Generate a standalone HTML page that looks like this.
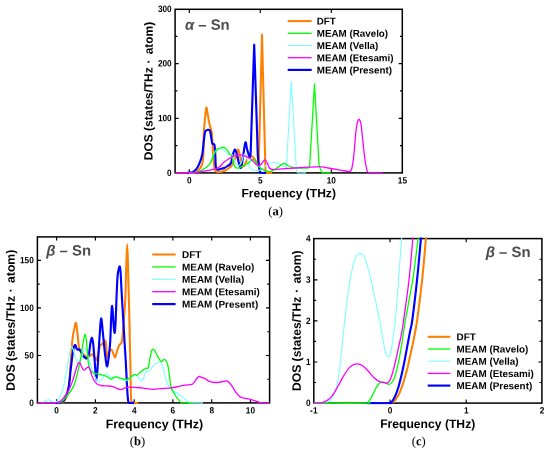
<!DOCTYPE html>
<html lang="en"><head><meta charset="utf-8"><title>Phonon DOS of Sn</title>
<style>html,body{margin:0;padding:0;background:#fff}svg{display:block}</style>
</head><body>
<svg width="550" height="453" viewBox="0 0 550 453">
<rect width="550" height="453" fill="#fff"/>
<defs>
<clipPath id="clipa"><rect x="174.1" y="8.1" width="229.2" height="166.2"/></clipPath>
<clipPath id="clipb"><rect x="36.4" y="235.7" width="234.2" height="168.6"/></clipPath>
<clipPath id="clipc"><rect x="312.8" y="237.4" width="230.1" height="167.1"/></clipPath>
</defs>
<g id="plot-a">
<g fill="none" stroke="#000" stroke-width="1.5">
<rect x="175.1" y="9.3" width="227.2" height="163.6"/>
<path d="M189.3 172.9v-3.6M189.3 9.3v3.6M260.3 172.9v-3.6M260.3 9.3v3.6M331.3 172.9v-3.6M331.3 9.3v3.6M175.1 118.3h3.6M402.3 118.3h-3.6M175.1 63.6h3.6M402.3 63.6h-3.6M175.1 145.6h2.3M402.3 145.6h-2.3M175.1 90.9h2.3M402.3 90.9h-2.3M175.1 36.3h2.3M402.3 36.3h-2.3" stroke-width="1.15"/>
</g>
<g fill="none" stroke-linejoin="round" stroke-linecap="butt" clip-path="url(#clipa)">
<path d="M189 172.9C189.67 172.88 191.68 173.05 193 172.8C194.32 172.55 195.82 172.03 196.9 171.4C197.98 170.77 198.73 169.9 199.5 169C200.27 168.1 200.93 167.35 201.5 166C202.07 164.65 202.58 162.78 202.9 160.9C203.22 159.02 203.28 157.85 203.4 154.7C203.52 151.55 203.52 145.85 203.6 142C203.68 138.15 203.68 135.37 203.9 131.6C204.12 127.83 204.48 123.42 204.9 119.4C205.32 115.38 205.88 108.07 206.4 107.5C206.92 106.93 207.48 113.2 208 116C208.52 118.8 208.9 121.7 209.5 124.3C210.1 126.9 211.13 128.98 211.6 131.6C212.07 134.22 212.05 136.15 212.3 140C212.55 143.85 212.73 150.03 213.1 154.7C213.47 159.37 214.02 165.22 214.5 168C214.98 170.78 215.42 170.73 216 171.4C216.58 172.07 217 171.98 218 172C219 172.02 220.67 171.83 222 171.5C223.33 171.17 224.83 170.58 226 170C227.17 169.42 228.03 168.75 229 168C229.97 167.25 230.8 167 231.8 165.5C232.8 164 234.13 161.25 235 159C235.87 156.75 236.45 153.55 237 152C237.55 150.45 237.75 148.73 238.3 149.7C238.85 150.67 239.68 155.17 240.3 157.8C240.92 160.43 241.38 164.13 242 165.5C242.62 166.87 243.33 166.58 244 166C244.67 165.42 245.33 163.37 246 162C246.67 160.63 247.25 158.8 248 157.8C248.75 156.8 249.83 156.27 250.5 156C251.17 155.73 251.33 155.7 252 156.2C252.67 156.7 253.67 157.95 254.5 159C255.33 160.05 256.35 161.58 257 162.5C257.65 163.42 258.08 165.53 258.4 164.5C258.72 163.47 258.75 160.94 258.92 156.3C259.09 151.67 259.25 143.24 259.42 136.71C259.58 130.18 259.75 123.65 259.91 117.12C260.08 110.59 260.24 104.06 260.41 97.53C260.57 91 260.74 84.46 260.9 77.93C261.07 71.4 261.23 64.87 261.4 58.34C261.56 51.81 261.79 42.71 261.89 38.75C262 34.79 261.96 34.6 262 34.6C262.04 34.6 262 34.56 262.11 38.75C262.21 42.94 262.46 52.73 262.64 59.72C262.81 66.72 262.99 73.71 263.17 80.7C263.34 87.69 263.52 94.68 263.7 101.68C263.87 108.67 264.05 115.66 264.23 122.65C264.41 129.64 264.58 136.63 264.76 143.63C264.94 150.62 265.13 159.96 265.29 164.6C265.45 169.25 265.48 170.12 265.7 171.5C265.92 172.88 265.55 172.67 266.6 172.9C267.65 173.13 271.1 172.9 272 172.9" stroke="#ff7f00" stroke-width="2.05"/>
<path d="M187 172.9C187.67 172.85 189.98 172.78 191 172.6C192.02 172.42 192.3 172.3 193.1 171.8C193.9 171.3 194.98 170.5 195.8 169.6C196.62 168.7 197.23 167.85 198 166.4C198.77 164.95 199.7 162.85 200.4 160.9C201.1 158.95 201.72 157.18 202.2 154.7C202.68 152.22 202.95 149.03 203.3 146C203.65 142.97 203.98 138.9 204.3 136.5C204.62 134.1 204.83 132.63 205.2 131.6C205.57 130.57 206 130.6 206.5 130.3C207 130 207.6 129.68 208.2 129.8C208.8 129.92 209.53 129.28 210.1 131C210.67 132.72 211.2 137.97 211.6 140.1C212 142.23 212.05 143.08 212.5 143.8C212.95 144.52 213.9 143.6 214.3 144.4C214.7 145.2 214.73 146.88 214.9 148.6C215.07 150.32 215.15 151.75 215.3 154.7C215.45 157.65 215.47 163.8 215.8 166.3C216.13 168.8 216.6 169.25 217.3 169.7C218 170.15 218.87 169.28 220 169C221.13 168.72 222.85 168.5 224.1 168C225.35 167.5 226.37 166.83 227.5 166C228.63 165.17 229.9 165.22 230.9 163C231.9 160.78 232.78 154.92 233.5 152.7C234.22 150.48 234.63 149.42 235.2 149.7C235.77 149.98 236.18 151.77 236.9 154.4C237.62 157.03 238.78 163.37 239.5 165.5C240.22 167.63 240.63 168.48 241.2 167.2C241.77 165.92 242.2 161.92 242.9 157.8C243.6 153.68 244.7 143.92 245.4 142.5C246.1 141.08 246.38 146.88 247.1 149.3C247.82 151.72 249.1 156.55 249.7 157C250.3 157.45 250.52 153.46 250.7 152C250.88 150.54 250.69 151.65 250.8 148.24C250.91 144.83 251.16 137.12 251.34 131.57C251.53 126.01 251.71 120.45 251.89 114.9C252.07 109.34 252.26 103.78 252.44 98.22C252.62 92.67 252.8 87.11 252.98 81.55C253.17 75.99 253.35 70.44 253.53 64.88C253.71 59.32 253.97 51.6 254.08 48.2C254.19 44.81 254.16 44.5 254.2 44.5C254.24 44.5 254.2 44.6 254.32 48.2C254.44 51.81 254.71 60.14 254.91 66.11C255.1 72.08 255.3 78.05 255.5 84.02C255.69 89.99 255.89 95.96 256.08 101.93C256.28 107.9 256.47 113.87 256.67 119.84C256.87 125.8 257.06 131.77 257.26 137.74C257.45 143.71 257.55 150.94 257.84 155.65C258.14 160.36 258.71 163.39 259 166C259.29 168.61 259.27 170.15 259.6 171.3C259.93 172.45 259.93 172.63 261 172.9C262.07 173.17 265.17 172.9 266 172.9" stroke="#0000ff" stroke-width="2.15"/>
<path d="M189 172.9C190 172.83 193.17 172.82 195 172.5C196.83 172.18 198.27 171.75 200 171C201.73 170.25 203.73 169.25 205.4 168C207.07 166.75 208.73 165.67 210 163.5C211.27 161.33 211.95 157.25 213 155C214.05 152.75 215.13 151 216.3 150C217.47 149 218.72 149 220 149C221.28 149 222.6 149.1 224 150C225.4 150.9 227.1 153.67 228.4 154.4C229.7 155.13 230.95 153.83 231.8 154.4C232.65 154.97 232.8 156.23 233.5 157.8C234.2 159.37 235.15 162.52 236 163.8C236.85 165.08 237.73 165.65 238.6 165.5C239.47 165.35 240.35 164.6 241.2 162.9C242.05 161.2 243 156.78 243.7 155.3C244.4 153.82 244.83 153.58 245.4 154C245.97 154.42 246.38 155.6 247.1 157.8C247.82 160 248.85 165.22 249.7 167.2C250.55 169.18 251.07 169.15 252.2 169.7C253.33 170.25 254.95 170.5 256.5 170.5C258.05 170.5 259.95 170.53 261.5 169.7C263.05 168.87 264.52 166.48 265.8 165.5C267.08 164.52 268.17 164.3 269.2 163.8C270.23 163.3 270.98 162.72 272 162.5C273.02 162.28 273.97 162.18 275.3 162.5C276.63 162.82 278.42 163.68 280 164.4C281.58 165.12 283.77 166.28 284.8 166.8C285.83 167.32 285.93 167.7 286.2 167.5C286.47 167.3 286.26 168.17 286.42 165.6C286.59 163.02 286.95 156.57 287.21 152.05C287.47 147.54 287.73 143.02 288 138.51C288.26 134 288.52 129.48 288.78 124.97C289.04 120.45 289.31 115.94 289.57 111.42C289.83 106.91 290.09 102.4 290.35 97.88C290.62 93.37 290.98 87.05 291.14 84.34C291.3 81.63 291.25 81.6 291.3 81.6C291.35 81.6 291.3 81.57 291.46 84.34C291.62 87.1 291.99 93.57 292.26 98.19C292.53 102.8 292.8 107.42 293.07 112.03C293.33 116.65 293.6 121.26 293.87 125.88C294.14 130.5 294.41 135.11 294.67 139.73C294.94 144.34 295.21 148.96 295.48 153.57C295.75 158.19 296.03 164.43 296.28 167.42C296.54 170.41 296.68 170.59 297 171.5C297.32 172.41 296.7 172.67 298.2 172.9C299.7 173.13 304.7 172.9 306 172.9" stroke="#7fffff" stroke-width="1.15"/>
<path d="M189 172.9C190 172.83 193.17 172.82 195 172.5C196.83 172.18 198.27 171.75 200 171C201.73 170.25 203.65 169.33 205.4 168C207.15 166.67 209.08 165.27 210.5 163C211.92 160.73 212.77 156.68 213.9 154.4C215.03 152.12 216.2 150.37 217.3 149.3C218.4 148.23 219.37 148.33 220.5 148C221.63 147.67 223.07 147.08 224.1 147.3C225.13 147.52 225.83 148.25 226.7 149.3C227.57 150.35 228.45 152.47 229.3 153.6C230.15 154.73 231.1 154.55 231.8 156.1C232.5 157.65 232.93 161.05 233.5 162.9C234.07 164.75 234.35 166.35 235.2 167.2C236.05 168.05 237.47 168.15 238.6 168C239.73 167.85 240.58 167 242 166.3C243.42 165.6 245.68 164.65 247.1 163.8C248.52 162.95 249.37 161.92 250.5 161.2C251.63 160.48 253.05 159.37 253.9 159.5C254.75 159.63 254.88 160.87 255.6 162C256.32 163.13 257.07 165.08 258.2 166.3C259.33 167.52 261.1 168.53 262.4 169.3C263.7 170.07 264.65 170.52 266 170.9C267.35 171.28 269 171.9 270.5 171.6C272 171.3 273.75 169.82 275 169.1C276.25 168.38 276.97 168.02 278 167.3C279.03 166.58 280.18 165.45 281.2 164.8C282.22 164.15 283.12 163.35 284.1 163.4C285.08 163.45 285.8 164.47 287.1 165.1C288.4 165.73 290.12 166.72 291.9 167.2C293.68 167.68 295.95 167.83 297.8 168C299.65 168.17 301.43 168.2 303 168.2C304.57 168.2 306.17 168.15 307.2 168C308.23 167.85 308.77 167.97 309.2 167.3C309.63 166.64 309.55 166.71 309.77 164.01C310 161.31 310.28 155.42 310.54 151.12C310.79 146.82 311.04 142.53 311.3 138.23C311.55 133.93 311.8 129.64 312.06 125.34C312.31 121.04 312.57 116.74 312.82 112.45C313.07 108.15 313.33 103.85 313.58 99.56C313.84 95.26 314.19 89.26 314.34 86.67C314.5 84.07 314.45 84 314.5 84C314.55 84 314.5 84.07 314.65 86.67C314.8 89.26 315.13 95.26 315.38 99.56C315.62 103.85 315.86 108.15 316.1 112.45C316.34 116.74 316.58 121.04 316.82 125.34C317.07 129.64 317.31 133.93 317.55 138.23C317.79 142.53 318.03 146.82 318.27 151.12C318.52 155.42 318.66 161.11 319 164.01C319.34 166.91 319.85 167.13 320.3 168.5C320.75 169.87 321.25 171.47 321.7 172.2C322.15 172.93 321.45 172.78 323 172.9C324.55 173.02 329.67 172.9 331 172.9" stroke="#00ff00" stroke-width="1.3"/>
<path d="M175.1 172.9C178.42 172.83 190.52 172.73 195 172.5C199.48 172.27 199.13 171.97 202 171.5C204.87 171.03 209.37 170.42 212.2 169.7C215.03 168.98 217.02 168.48 219 167.2C220.98 165.92 222.4 163.42 224.1 162C225.8 160.58 227.63 159.68 229.2 158.7C230.77 157.72 231.65 156.75 233.5 156.1C235.35 155.45 238.32 154.8 240.3 154.8C242.28 154.8 243.7 155.45 245.4 156.1C247.1 156.75 249.08 157.7 250.5 158.7C251.92 159.7 252.77 160.97 253.9 162.1C255.03 163.23 256.17 165.08 257.3 165.5C258.43 165.92 259.7 165.32 260.7 164.6C261.7 163.88 262.53 161.97 263.3 161.2C264.07 160.43 264.63 159.7 265.3 160C265.97 160.3 266.62 161.67 267.3 163C267.98 164.33 268.45 166.9 269.4 168C270.35 169.1 271.42 169.42 273 169.6C274.58 169.78 276.57 169.28 278.9 169.1C281.23 168.92 284.25 168.68 287 168.5C289.75 168.32 292.03 168.22 295.4 168C298.77 167.78 303.67 167.4 307.2 167.2C310.73 167 314.17 166.87 316.6 166.8C319.03 166.73 319.83 166.6 321.8 166.8C323.77 167 326.05 167.57 328.4 168C330.75 168.43 333 168.9 335.9 169.4C338.8 169.9 343.48 170.67 345.8 171C348.12 171.33 348.8 171.82 349.8 171.4C350.8 170.98 351.13 171.15 351.8 168.5C352.47 165.85 353.15 161.3 353.8 155.5C354.45 149.7 355.12 139.15 355.7 133.7C356.28 128.25 356.73 125.18 357.3 122.8C357.87 120.42 358.47 119.07 359.1 119.4C359.73 119.73 360.5 121.42 361.1 124.8C361.7 128.18 362.1 134.25 362.7 139.7C363.3 145.15 364.03 152.55 364.7 157.5C365.37 162.45 366.1 166.92 366.7 169.4C367.3 171.88 367.58 171.82 368.3 172.4C369.02 172.98 368.62 172.82 371 172.9C373.38 172.98 380.67 172.9 382.6 172.9" stroke="#ff00ff" stroke-width="1.3"/>
</g>
<g style="font-family:'Liberation Sans',Arial,sans-serif;font-weight:bold;font-size:9.2px" fill="#000">
<text transform="translate(189.3 183.6) rotate(.04) scale(.9 1)" text-anchor="middle">0</text>
<text transform="translate(260.3 183.6) rotate(.04) scale(.9 1)" text-anchor="middle">5</text>
<text transform="translate(331.3 183.6) rotate(.04) scale(.9 1)" text-anchor="middle">10</text>
<text transform="translate(402.4 183.6) rotate(.04) scale(.9 1)" text-anchor="middle">15</text>
<text transform="translate(171.7 175.9) rotate(.04) scale(.9 1)" text-anchor="end">0</text>
<text transform="translate(171.7 121.3) rotate(.04) scale(.9 1)" text-anchor="end">100</text>
<text transform="translate(171.7 66.6) rotate(.04) scale(.9 1)" text-anchor="end">200</text>
<text transform="translate(171.7 12.1) rotate(.04) scale(.9 1)" text-anchor="end">300</text>
</g>
<text transform="translate(288.7 197.3) rotate(.04)" text-anchor="middle" style="font-family:'Liberation Sans',Arial,sans-serif;font-weight:bold;font-size:12.05px" fill="#000">Frequency (THz)</text>
<text transform="translate(152.6 91) rotate(-89.96)" text-anchor="middle" style="font-family:'Liberation Sans',Arial,sans-serif;font-weight:bold;font-size:11.95px" fill="#000"><tspan>DOS (states/THz</tspan><tspan dx="3.8">·</tspan><tspan dx="5.2">atom)</tspan></text>
<text transform="translate(184.9 29.8) rotate(.04)" style="font-family:'Liberation Sans',Arial,sans-serif;font-weight:bold;font-size:14.9px" fill="#4d4d4d"><tspan font-style="italic">α</tspan> – Sn</text>
<g style="font-family:'Liberation Sans',Arial,sans-serif;font-weight:bold;font-size:9.8px" fill="#000">
<path d="M287.7 21.1H311.7" stroke="#ff7f00" stroke-width="2.05" fill="none"/>
<text transform="translate(316.8 24.6) rotate(.04)">DFT</text>
<path d="M287.7 33.3H311.7" stroke="#00ff00" stroke-width="1.3" fill="none"/>
<text transform="translate(316.8 36.8) rotate(.04)">MEAM (Ravelo)</text>
<path d="M287.7 45.5H311.7" stroke="#7fffff" stroke-width="1.15" fill="none"/>
<text transform="translate(316.8 49) rotate(.04)">MEAM (Vella)</text>
<path d="M287.7 57.7H311.7" stroke="#ff00ff" stroke-width="1.3" fill="none"/>
<text transform="translate(316.8 61.2) rotate(.04)">MEAM (Etesami)</text>
<path d="M287.7 69.9H311.7" stroke="#0000ff" stroke-width="2.15" fill="none"/>
<text transform="translate(316.8 73.4) rotate(.04)">MEAM (Present)</text>
</g>
<text transform="translate(275.6 215.3) rotate(.04)" text-anchor="middle" style="font-family:'Liberation Serif','Times New Roman',serif;font-size:12.6px" fill="#000">(<tspan font-weight="bold">a</tspan>)</text>
</g>
<g id="plot-b">
<g fill="none" stroke="#000" stroke-width="1.5">
<rect x="37.4" y="236.9" width="232.2" height="166"/>
<path d="M56.6 402.9v-3.6M56.6 236.9v3.6M95.4 402.9v-3.6M95.4 236.9v3.6M134.2 402.9v-3.6M134.2 236.9v3.6M172.9 402.9v-3.6M172.9 236.9v3.6M211.7 402.9v-3.6M211.7 236.9v3.6M250.4 402.9v-3.6M250.4 236.9v3.6M37.4 355.5h3.6M269.6 355.5h-3.6M37.4 307.9h3.6M269.6 307.9h-3.6M37.4 260.3h3.6M269.6 260.3h-3.6M37.4 379.2h2.3M269.6 379.2h-2.3M37.4 331.7h2.3M269.6 331.7h-2.3M37.4 284.1h2.3M269.6 284.1h-2.3" stroke-width="1.15"/>
</g>
<g fill="none" stroke-linejoin="round" stroke-linecap="butt" clip-path="url(#clipb)">
<path d="M56 402.9C56.83 402.85 59.67 402.92 61 402.6C62.33 402.28 63.08 401.93 64 401C64.92 400.07 65.75 399.17 66.5 397C67.25 394.83 67.92 392.17 68.5 388C69.08 383.83 69.58 376.9 70 372C70.42 367.1 70.68 363.05 71 358.6C71.32 354.15 71.57 349.17 71.9 345.3C72.23 341.43 72.57 338.28 73 335.4C73.43 332.52 74 330.07 74.5 328C75 325.93 75.47 321.77 76 323C76.53 324.23 77.23 331.5 77.7 335.4C78.17 339.3 78.33 343.8 78.8 346.4C79.27 349 79.68 349.7 80.5 351C81.32 352.3 82.7 353.22 83.7 354.2C84.7 355.18 85.48 356.63 86.5 356.9C87.52 357.17 88.88 356.25 89.8 355.8C90.72 355.35 91.3 354.17 92 354.2C92.7 354.23 93.25 355.03 94 356C94.75 356.97 95.75 360.67 96.5 360C97.25 359.33 97.92 354.33 98.5 352C99.08 349.67 99.45 347.27 100 346C100.55 344.73 101.22 344.9 101.8 344.4C102.38 343.9 102.93 343.65 103.5 343C104.07 342.35 104.75 340 105.2 340.5C105.65 341 105.92 343.17 106.2 346C106.48 348.83 106.43 356.5 106.9 357.5C107.37 358.5 108.15 353.22 109 352C109.85 350.78 111.02 349.28 112 350.2C112.98 351.12 114.05 357.38 114.9 357.5C115.75 357.62 116.37 352.97 117.1 350.9C117.83 348.83 118.57 346.43 119.3 345.1C120.03 343.77 121 343.98 121.5 342.9C122 341.82 122.02 341.02 122.3 338.6C122.58 336.18 122.88 332.23 123.2 328.4C123.52 324.57 123.83 320.93 124.2 315.6C124.57 310.27 125.03 305.33 125.4 296.4C125.77 287.47 126.1 270.68 126.4 262C126.7 253.32 126.95 244.3 127.2 244.3C127.45 244.3 127.67 254.38 127.9 262C128.13 269.62 128.37 281.07 128.6 290C128.83 298.93 129.07 305.93 129.3 315.6C129.53 325.27 129.8 339.1 130 348C130.2 356.9 130.33 360.62 130.5 369C130.67 377.38 130.78 392.7 131 398.3C131.22 403.9 131.47 401.83 131.8 402.6C132.13 403.37 131.93 402.85 133 402.9C134.07 402.95 137.33 402.9 138.2 402.9" stroke="#ff7f00" stroke-width="2.05"/>
<path d="M56 402.9C56.67 402.85 58.92 402.83 60 402.6C61.08 402.37 61.63 402.22 62.5 401.5C63.37 400.78 64.15 400.78 65.2 398.3C66.25 395.82 67.9 391.28 68.8 386.6C69.7 381.92 70.02 375.27 70.6 370.2C71.18 365.13 71.82 359.82 72.3 356.2C72.78 352.58 73.12 350.32 73.5 348.5C73.88 346.68 74.25 345.78 74.6 345.3C74.95 344.82 75.28 345.05 75.6 345.6C75.92 346.15 76.15 347.92 76.5 348.6C76.85 349.28 77.23 349.55 77.7 349.7C78.17 349.85 78.75 349.13 79.3 349.5C79.85 349.87 80.45 350.93 81 351.9C81.55 352.87 81.97 354.37 82.6 355.3C83.23 356.23 84.07 357 84.8 357.5C85.53 358 86.32 358.85 87 358.3C87.68 357.75 88.33 356.73 88.9 354.2C89.47 351.67 89.92 345.87 90.4 343.1C90.88 340.33 91.35 337.6 91.8 337.6C92.25 337.6 92.63 339.37 93.1 343.1C93.57 346.83 94.05 353.78 94.6 360C95.15 366.22 95.82 380.4 96.4 380.4C96.98 380.4 97.58 367.13 98.1 360C98.62 352.87 99 344.52 99.5 337.6C100 330.68 100.55 319.42 101.1 318.5C101.65 317.58 102.28 327.45 102.8 332.1C103.32 336.75 103.7 341.75 104.2 346.4C104.7 351.05 105.3 356.68 105.8 360C106.3 363.32 106.67 367.13 107.2 366.3C107.73 365.47 108.5 359.05 109 355C109.5 350.95 109.87 347.5 110.2 342C110.53 336.5 110.77 327.33 111 322C111.23 316.67 111.42 312.67 111.6 310C111.78 307.33 111.9 305.67 112.1 306C112.3 306.33 112.55 308.83 112.8 312C113.05 315.17 113.28 321.52 113.6 325C113.92 328.48 114.37 333.4 114.7 332.9C115.03 332.4 115.3 327.82 115.6 322C115.9 316.18 116.22 305 116.5 298C116.78 291 117.05 284.25 117.3 280C117.55 275.75 117.73 274.42 118 272.5C118.27 270.58 118.6 269.5 118.9 268.5C119.2 267.5 119.52 265.92 119.8 266.5C120.08 267.08 120.32 268.08 120.6 272C120.88 275.92 121.03 281.67 121.5 290C121.97 298.33 122.88 313.17 123.4 322C123.92 330.83 124.2 336.35 124.6 343C125 349.65 125.35 353.9 125.8 361.9C126.25 369.9 126.88 384.4 127.3 391C127.72 397.6 127.93 399.52 128.3 401.5C128.67 403.48 128.55 402.67 129.5 402.9C130.45 403.13 133.25 402.9 134 402.9" stroke="#0000ff" stroke-width="2.15"/>
<path d="M42 402.9C42.6 402.55 44.45 401.3 45.6 400.8C46.75 400.3 47.77 399.7 48.9 399.9C50.03 400.1 51.3 401.6 52.4 402C53.5 402.4 54.33 402.92 55.5 402.3C56.67 401.68 58.17 400.53 59.4 398.3C60.63 396.07 61.73 393.2 62.9 388.9C64.07 384.6 65.23 378.73 66.4 372.5C67.57 366.27 69.03 355.78 69.9 351.5C70.77 347.22 71.02 347 71.6 346.8C72.18 346.6 72.7 348.35 73.4 350.3C74.1 352.25 75.02 356.43 75.8 358.5C76.58 360.57 77.13 362.9 78.1 362.7C79.07 362.5 80.62 359.37 81.6 357.3C82.58 355.23 83.33 351.77 84 350.3C84.67 348.83 85.1 348.38 85.6 348.5C86.1 348.62 86.52 349.42 87 351C87.48 352.58 87.63 354.8 88.5 358C89.37 361.2 91 366.8 92.2 370.2C93.4 373.6 94.72 376.38 95.7 378.4C96.68 380.42 97.22 382.02 98.1 382.3C98.98 382.58 99.9 381.32 101 380.1C102.1 378.88 103.72 376.1 104.7 375C105.68 373.9 106.17 373.3 106.9 373.5C107.63 373.7 108.25 375.4 109.1 376.2C109.95 377 111.15 378.07 112 378.3C112.85 378.53 113.47 377.95 114.2 377.6C114.93 377.25 115.55 376.1 116.4 376.2C117.25 376.3 118.22 377.55 119.3 378.2C120.38 378.85 121.68 379.72 122.9 380.1C124.12 380.48 125.38 380.82 126.6 380.5C127.82 380.18 129.12 379 130.2 378.2C131.28 377.4 132.25 376.35 133.1 375.7C133.95 375.05 134.57 374.17 135.3 374.3C136.03 374.43 136.65 375.6 137.5 376.5C138.35 377.4 139.67 378.98 140.4 379.7C141.13 380.42 141.42 380.85 141.9 380.8C142.38 380.75 142.7 380.73 143.3 379.4C143.9 378.07 144.77 374.22 145.5 372.8C146.23 371.38 146.97 371.27 147.7 370.9C148.43 370.53 149.3 370.97 149.9 370.6C150.5 370.23 150.68 369.67 151.3 368.7C151.92 367.73 152.7 365.72 153.6 364.8C154.5 363.88 155.65 363.68 156.7 363.2C157.75 362.72 159.12 361.9 159.9 361.9C160.68 361.9 160.88 362.33 161.4 363.2C161.92 364.07 162.47 365.28 163 367.1C163.53 368.92 163.95 371.48 164.6 374.1C165.25 376.72 166.12 380.57 166.9 382.8C167.68 385.03 168.52 386.47 169.3 387.5C170.08 388.53 170.57 388.22 171.6 389C172.63 389.78 174.18 391.28 175.5 392.2C176.82 393.12 178.18 393.6 179.5 394.5C180.82 395.4 182.23 396.55 183.4 397.6C184.57 398.65 185.6 399.98 186.5 400.8C187.4 401.62 188.05 402.15 188.8 402.5C189.55 402.85 188.63 402.83 191 402.9C193.37 402.97 201 402.9 203 402.9" stroke="#7fffff" stroke-width="1.15"/>
<path d="M58 402.9C58.82 402.52 61.1 402.15 62.9 400.6C64.7 399.05 67.05 395.93 68.8 393.6C70.55 391.27 72.23 388.93 73.4 386.6C74.57 384.27 75.02 382.33 75.8 379.6C76.58 376.87 77.32 373.52 78.1 370.2C78.88 366.88 79.72 363.98 80.5 359.7C81.28 355.42 82.07 348.68 82.8 344.5C83.53 340.32 84.32 335.38 84.9 334.6C85.48 333.82 85.92 337.23 86.3 339.8C86.68 342.37 86.82 345.83 87.2 350C87.58 354.17 88 361.37 88.6 364.8C89.2 368.23 89.93 369.18 90.8 370.6C91.67 372.02 92.58 372.77 93.8 373.3C95.02 373.83 96.65 373.52 98.1 373.8C99.55 374.08 101.03 374.55 102.5 375C103.97 375.45 105.57 375.82 106.9 376.5C108.23 377.18 109.53 378.82 110.5 379.1C111.47 379.38 111.85 378.58 112.7 378.2C113.55 377.82 114.63 376.9 115.6 376.8C116.57 376.7 117.4 377.3 118.5 377.6C119.6 377.9 120.98 378.25 122.2 378.6C123.42 378.95 124.7 379.7 125.8 379.7C126.9 379.7 127.82 379.18 128.8 378.6C129.78 378.02 130.73 376.92 131.7 376.2C132.67 375.48 133.75 374.45 134.6 374.3C135.45 374.15 135.95 375.55 136.8 375.3C137.65 375.05 138.62 373.7 139.7 372.8C140.78 371.9 142.2 370.67 143.3 369.9C144.4 369.13 145.55 368.47 146.3 368.2C147.05 367.93 147.37 368.87 147.8 368.3C148.23 367.73 148.45 366.95 148.9 364.8C149.35 362.65 149.98 357.88 150.5 355.4C151.02 352.92 151.48 350.9 152 349.9C152.52 348.9 153.07 349.15 153.6 349.4C154.13 349.65 154.55 350.28 155.2 351.4C155.85 352.52 156.72 354.65 157.5 356.1C158.28 357.55 159.25 359.18 159.9 360.1C160.55 361.02 160.88 361.6 161.4 361.6C161.92 361.6 162.47 360.48 163 360.1C163.53 359.72 164.08 359.18 164.6 359.3C165.12 359.42 165.58 359.88 166.1 360.8C166.62 361.72 167.17 362.58 167.7 364.8C168.23 367.02 168.85 370.98 169.3 374.1C169.75 377.22 170.02 381.02 170.4 383.5C170.78 385.98 171 387.43 171.6 389C172.2 390.57 173.22 391.58 174 392.9C174.78 394.22 175.52 395.72 176.3 396.9C177.08 398.08 177.92 399.07 178.7 400C179.48 400.93 180.28 402.02 181 402.5C181.72 402.98 181.03 402.83 183 402.9C184.97 402.97 191.17 402.9 192.8 402.9" stroke="#00ff00" stroke-width="1.3"/>
<path d="M37.4 402.9C40.33 402.87 51.33 402.88 55 402.7C58.67 402.52 57.88 402.73 59.4 401.8C60.92 400.87 62.53 399.05 64.1 397.1C65.67 395.15 67.43 392.63 68.8 390.1C70.17 387.57 71.13 385.22 72.3 381.9C73.47 378.58 74.83 373.25 75.8 370.2C76.77 367.15 77.43 364.85 78.1 363.6C78.77 362.35 79.22 362.18 79.8 362.7C80.38 363.22 80.9 365.45 81.6 366.7C82.3 367.95 83.22 369.93 84 370.2C84.78 370.47 85.6 368.83 86.3 368.3C87 367.77 87.65 366.97 88.2 367C88.75 367.03 89.08 367.33 89.6 368.5C90.12 369.67 90.65 372.17 91.3 374C91.95 375.83 92.6 377.87 93.5 379.5C94.4 381.13 95.45 382.8 96.7 383.8C97.95 384.8 99.3 385.15 101 385.5C102.7 385.85 105.07 385.75 106.9 385.9C108.73 386.05 110.55 386.08 112 386.4C113.45 386.72 114.15 387.27 115.6 387.8C117.05 388.33 119.12 389.6 120.7 389.6C122.28 389.6 123.75 388.22 125.1 387.8C126.45 387.38 127.22 387.17 128.8 387.1C130.38 387.03 132.18 387.23 134.6 387.4C137.02 387.57 140.27 387.77 143.3 388.1C146.33 388.43 149.9 389.32 152.8 389.4C155.7 389.48 158.08 388.8 160.7 388.6C163.32 388.4 165.9 388.47 168.5 388.2C171.1 387.93 173.7 387.47 176.3 387C178.9 386.53 181.48 385.85 184.1 385.4C186.72 384.95 190.3 384.87 192 384.3C193.7 383.73 193.52 382.97 194.3 382C195.08 381.03 195.92 379.42 196.7 378.5C197.48 377.58 198.22 376.7 199 376.5C199.78 376.3 200.4 376.93 201.4 377.3C202.4 377.67 203.75 378.05 205 378.7C206.25 379.35 207.47 380.58 208.9 381.2C210.33 381.82 211.9 382.22 213.6 382.4C215.3 382.58 217.4 382.45 219.1 382.3C220.8 382.15 222.5 381.73 223.8 381.5C225.1 381.27 225.98 380.68 226.9 380.9C227.82 381.12 228.38 381.83 229.3 382.8C230.22 383.77 231.23 385.02 232.4 386.7C233.57 388.38 235 391.2 236.3 392.9C237.6 394.6 238.9 396.03 240.2 396.9C241.5 397.77 242.53 397.72 244.1 398.1C245.67 398.48 247.77 398.75 249.6 399.2C251.43 399.65 253.4 400.25 255.1 400.8C256.8 401.35 258.5 402.15 259.8 402.5C261.1 402.85 261.27 402.83 262.9 402.9C264.53 402.97 268.48 402.9 269.6 402.9" stroke="#ff00ff" stroke-width="1.3"/>
</g>
<g style="font-family:'Liberation Sans',Arial,sans-serif;font-weight:bold;font-size:9.2px" fill="#000">
<text transform="translate(56.6 413.6) rotate(.04) scale(.9 1)" text-anchor="middle">0</text>
<text transform="translate(95.4 413.6) rotate(.04) scale(.9 1)" text-anchor="middle">2</text>
<text transform="translate(134.2 413.6) rotate(.04) scale(.9 1)" text-anchor="middle">4</text>
<text transform="translate(172.9 413.6) rotate(.04) scale(.9 1)" text-anchor="middle">6</text>
<text transform="translate(211.7 413.6) rotate(.04) scale(.9 1)" text-anchor="middle">8</text>
<text transform="translate(250.4 413.6) rotate(.04) scale(.9 1)" text-anchor="middle">10</text>
<text transform="translate(33.8 405.9) rotate(.04) scale(.9 1)" text-anchor="end">0</text>
<text transform="translate(33.8 358.5) rotate(.04) scale(.9 1)" text-anchor="end">50</text>
<text transform="translate(33.8 310.9) rotate(.04) scale(.9 1)" text-anchor="end">100</text>
<text transform="translate(33.8 263.3) rotate(.04) scale(.9 1)" text-anchor="end">150</text>
</g>
<text transform="translate(154.4 428.3) rotate(.04)" text-anchor="middle" style="font-family:'Liberation Sans',Arial,sans-serif;font-weight:bold;font-size:12.45px" fill="#000">Frequency (THz)</text>
<text transform="translate(14.8 320.3) rotate(-89.96)" text-anchor="middle" style="font-family:'Liberation Sans',Arial,sans-serif;font-weight:bold;font-size:12.2px" fill="#000"><tspan>DOS (states/THz</tspan><tspan dx="3.8">·</tspan><tspan dx="5.2">atom)</tspan></text>
<text transform="translate(46.2 255.6) rotate(.04)" style="font-family:'Liberation Sans',Arial,sans-serif;font-weight:bold;font-size:14.9px" fill="#4d4d4d"><tspan font-style="italic">β</tspan> – Sn</text>
<g style="font-family:'Liberation Sans',Arial,sans-serif;font-weight:bold;font-size:9.95px" fill="#000">
<path d="M152.2 254.5H175.6" stroke="#ff7f00" stroke-width="2.05" fill="none"/>
<text transform="translate(182 258) rotate(.04)">DFT</text>
<path d="M152.2 266.9H175.6" stroke="#00ff00" stroke-width="1.3" fill="none"/>
<text transform="translate(182 270.4) rotate(.04)">MEAM (Ravelo)</text>
<path d="M152.2 279.3H175.6" stroke="#7fffff" stroke-width="1.15" fill="none"/>
<text transform="translate(182 282.8) rotate(.04)">MEAM (Vella)</text>
<path d="M152.2 291.7H175.6" stroke="#ff00ff" stroke-width="1.3" fill="none"/>
<text transform="translate(182 295.2) rotate(.04)">MEAM (Etesami)</text>
<path d="M152.2 304.1H175.6" stroke="#0000ff" stroke-width="2.15" fill="none"/>
<text transform="translate(182 307.6) rotate(.04)">MEAM (Present)</text>
</g>
<text transform="translate(137.5 445.2) rotate(.04)" text-anchor="middle" style="font-family:'Liberation Serif','Times New Roman',serif;font-size:12.6px" fill="#000">(<tspan font-weight="bold">b</tspan>)</text>
</g>
<g id="plot-c">
<g fill="none" stroke="#000" stroke-width="1.5">
<rect x="313.8" y="238.6" width="228.1" height="164.5"/>
<path d="M390 403.1v-3.6M390 238.6v3.6M466.2 403.1v-3.6M466.2 238.6v3.6M313.8 362h3.6M541.9 362h-3.6M313.8 320.9h3.6M541.9 320.9h-3.6M313.8 279.8h3.6M541.9 279.8h-3.6M313.8 382.5h2.3M541.9 382.5h-2.3M313.8 341.4h2.3M541.9 341.4h-2.3M313.8 300.3h2.3M541.9 300.3h-2.3M313.8 259.2h2.3M541.9 259.2h-2.3" stroke-width="1.15"/>
</g>
<g fill="none" stroke-linejoin="round" stroke-linecap="butt" clip-path="url(#clipc)">
<path d="M389 403.15C389.53 403.1 391.05 403.53 392.2 402.85C393.35 402.18 394.65 400.82 395.9 399.1C397.15 397.38 398.45 395.36 399.7 392.55C400.95 389.74 402.15 386.16 403.4 382.25C404.65 378.34 405.95 374.1 407.2 369.1C408.45 364.1 409.81 357.25 410.9 352.25C411.99 347.25 412.72 344.42 413.75 339.1C414.78 333.78 415.69 330.31 417.1 320.35C418.51 310.39 420.73 292.95 422.2 279.35C423.67 265.75 425.17 246.92 425.9 238.75C426.63 230.58 426.48 231.75 426.6 230.35" stroke="#ff7f00" stroke-width="2.05"/>
<path d="M366 403.15C369.95 403.15 385.53 403.28 389.7 403.15C393.87 403.02 390.43 402.87 391 402.35C391.57 401.83 392.28 401.37 393.1 400.05C393.92 398.73 394.96 396.8 395.9 394.45C396.84 392.1 397.8 389.23 398.75 385.95C399.7 382.67 400.66 378.81 401.6 374.75C402.54 370.69 403.47 366.29 404.4 361.6C405.33 356.91 406.27 351.6 407.2 346.6C408.13 341.6 409.16 335.98 410 331.6C410.84 327.23 411.07 329.06 412.25 320.35C413.43 311.64 415.66 292.95 417.1 279.35C418.54 265.75 420.13 246.92 420.9 238.75C421.67 230.58 421.57 231.75 421.7 230.35" stroke="#0000ff" stroke-width="2.15"/>
<path d="M313.8 403.15C315 403.13 318.82 403.17 321 403.05C323.18 402.93 325.3 402.95 326.9 402.45C328.5 401.95 329.35 401.55 330.6 400.05C331.85 398.55 333.3 396.1 334.4 393.45C335.5 390.8 336.42 387.58 337.2 384.15C337.98 380.72 338.48 377.23 339.1 372.85C339.72 368.47 340.28 363.47 340.9 357.85C341.52 352.23 342.17 345.4 342.8 339.15C343.43 332.9 343.92 327.33 344.7 320.35C345.48 313.37 346.57 304.23 347.5 297.25C348.43 290.27 349.37 283.77 350.3 278.45C351.23 273.13 352.17 268.93 353.1 265.35C354.03 261.77 355.08 258.78 355.9 256.95C356.72 255.12 357.27 254.92 358 254.35C358.73 253.78 359.55 253.55 360.3 253.55C361.05 253.55 361.82 253.78 362.5 254.35C363.18 254.92 363.62 255.12 364.4 256.95C365.18 258.78 366.27 262.23 367.2 265.35C368.13 268.47 369.07 271.9 370 275.65C370.93 279.4 371.87 283.63 372.8 287.85C373.73 292.07 374.47 295.53 375.6 300.95C376.73 306.37 378.5 314.62 379.6 320.35C380.7 326.08 381.3 330.35 382.2 335.35C383.1 340.35 384.22 346.97 385 350.35C385.78 353.73 386.3 354.55 386.9 355.65C387.5 356.75 388.02 357.2 388.6 356.95C389.18 356.7 389.78 356.33 390.4 354.15C391.02 351.97 391.67 347.92 392.3 343.85C392.93 339.78 393.68 333.67 394.2 329.75C394.72 325.83 394.7 328.27 395.4 320.35C396.1 312.43 397.63 292.35 398.4 282.25C399.17 272.15 399.47 267 400 259.75C400.53 252.5 401.23 243.65 401.6 238.75C401.97 233.85 402.1 231.75 402.2 230.35" stroke="#7fffff" stroke-width="1.15"/>
<path d="M313.8 403.15C322.38 403.15 356.25 403.35 365.3 403.15C374.35 402.95 367.17 402.78 368.1 401.95C369.03 401.12 369.95 399.72 370.9 398.15C371.85 396.58 372.85 394.42 373.8 392.55C374.75 390.68 375.67 388.52 376.6 386.95C377.53 385.38 378.47 384 379.4 383.15C380.33 382.3 381.27 381.93 382.2 381.85C383.13 381.77 383.93 382.23 385 382.65C386.07 383.07 387.56 384.27 388.6 384.35C389.64 384.43 390.33 384.13 391.25 383.15C392.17 382.17 393.16 380.79 394.1 378.45C395.04 376.11 395.97 372.85 396.9 369.1C397.83 365.35 398.77 360.95 399.7 355.95C400.63 350.95 401.57 345.03 402.5 339.1C403.43 333.17 403.58 330.31 405.3 320.35C407.02 310.39 410.67 292.95 412.8 279.35C414.93 265.75 417.03 246.92 418.1 238.75C419.17 230.58 419.02 231.75 419.2 230.35" stroke="#00ff00" stroke-width="1.3"/>
<path d="M313.8 403.15C315.05 403.1 319.12 403.27 321.3 402.85C323.48 402.43 325.03 401.9 326.9 400.65C328.77 399.4 330.63 397.8 332.5 395.35C334.37 392.9 336.22 389.23 338.1 385.95C339.98 382.67 341.92 378.7 343.8 375.65C345.68 372.6 347.68 369.52 349.4 367.65C351.12 365.78 352.53 365.05 354.1 364.45C355.67 363.85 357.25 363.75 358.8 364.05C360.35 364.35 361.85 365.1 363.4 366.25C364.95 367.4 366.37 369.07 368.1 370.95C369.83 372.83 371.92 375.78 373.8 377.55C375.68 379.32 377.74 380.7 379.4 381.55C381.06 382.4 382.4 382.42 383.75 382.65C385.1 382.88 386.41 383.48 387.5 382.95C388.59 382.42 389.37 381.45 390.3 379.45C391.23 377.45 392.17 374.23 393.1 370.95C394.03 367.67 394.96 363.81 395.9 359.75C396.84 355.69 397.8 350.98 398.75 346.6C399.7 342.22 400.79 337.83 401.6 333.45C402.41 329.08 402.35 329.37 403.6 320.35C404.85 311.33 407.57 292.95 409.1 279.35C410.63 265.75 412.05 246.92 412.8 238.75C413.55 230.58 413.47 231.75 413.6 230.35" stroke="#ff00ff" stroke-width="1.3"/>
</g>
<g style="font-family:'Liberation Sans',Arial,sans-serif;font-weight:bold;font-size:9.2px" fill="#000">
<text transform="translate(313.8 413.6) rotate(.04) scale(.9 1)" text-anchor="middle">-1</text>
<text transform="translate(390 413.6) rotate(.04) scale(.9 1)" text-anchor="middle">0</text>
<text transform="translate(466.2 413.6) rotate(.04) scale(.9 1)" text-anchor="middle">1</text>
<text transform="translate(542 413.6) rotate(.04) scale(.9 1)" text-anchor="middle">2</text>
<text transform="translate(310.6 406.1) rotate(.04) scale(.9 1)" text-anchor="end">0</text>
<text transform="translate(310.6 365) rotate(.04) scale(.9 1)" text-anchor="end">1</text>
<text transform="translate(310.6 323.9) rotate(.04) scale(.9 1)" text-anchor="end">2</text>
<text transform="translate(310.6 282.8) rotate(.04) scale(.9 1)" text-anchor="end">3</text>
<text transform="translate(310.6 241.6) rotate(.04) scale(.9 1)" text-anchor="end">4</text>
</g>
<text transform="translate(427.7 427.9) rotate(.04)" text-anchor="middle" style="font-family:'Liberation Sans',Arial,sans-serif;font-weight:bold;font-size:12.15px" fill="#000">Frequency (THz)</text>
<text transform="translate(300.7 320.8) rotate(-89.96)" text-anchor="middle" style="font-family:'Liberation Sans',Arial,sans-serif;font-weight:bold;font-size:12.15px" fill="#000"><tspan>DOS (states/THz</tspan><tspan dx="3.8">·</tspan><tspan dx="5.2">atom)</tspan></text>
<text transform="translate(485.7 257.1) rotate(.04)" style="font-family:'Liberation Sans',Arial,sans-serif;font-weight:bold;font-size:14.9px" fill="#4d4d4d"><tspan font-style="italic">β</tspan> – Sn</text>
<g style="font-family:'Liberation Sans',Arial,sans-serif;font-weight:bold;font-size:9.9px" fill="#000">
<path d="M427.7 336.8H450.3" stroke="#ff7f00" stroke-width="2.05" fill="none"/>
<text transform="translate(456.5 340.3) rotate(.04)">DFT</text>
<path d="M427.7 349H450.3" stroke="#00ff00" stroke-width="1.3" fill="none"/>
<text transform="translate(456.5 352.5) rotate(.04)">MEAM (Ravelo)</text>
<path d="M427.7 361.2H450.3" stroke="#7fffff" stroke-width="1.15" fill="none"/>
<text transform="translate(456.5 364.7) rotate(.04)">MEAM (Vella)</text>
<path d="M427.7 373.4H450.3" stroke="#ff00ff" stroke-width="1.3" fill="none"/>
<text transform="translate(456.5 376.9) rotate(.04)">MEAM (Etesami)</text>
<path d="M427.7 385.6H450.3" stroke="#0000ff" stroke-width="2.15" fill="none"/>
<text transform="translate(456.5 389.1) rotate(.04)">MEAM (Present)</text>
</g>
<text transform="translate(418.7 445.2) rotate(.04)" text-anchor="middle" style="font-family:'Liberation Serif','Times New Roman',serif;font-size:12.6px" fill="#000">(<tspan font-weight="bold">c</tspan>)</text>
</g>
</svg>
</body></html>
